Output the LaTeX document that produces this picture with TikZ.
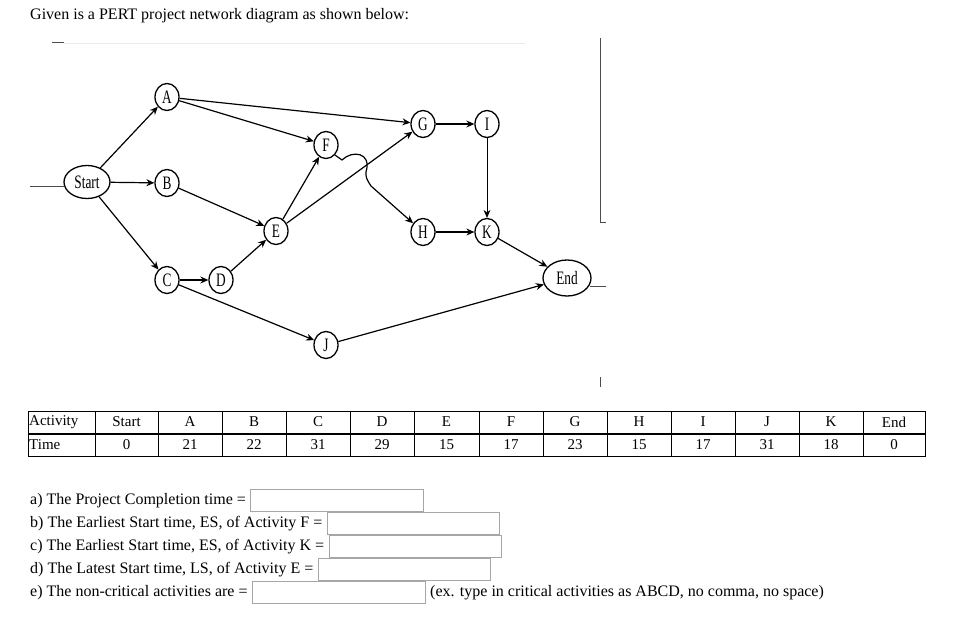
\documentclass[tikz,border=0pt]{standalone}
\usepackage{fontspec}
\setmainfont{Liberation Serif}
\usetikzlibrary{shapes.geometric,arrows.meta}
\tikzset{
 nd/.style={draw,ellipse,line width=1.3pt,inner sep=0pt,minimum width=24pt,minimum height=27pt,font=\fontsize{19}{19}\selectfont},
 bignd/.style={nd,minimum width=46pt,minimum height=33pt},
 ar/.style={line width=1.2pt,-{Stealth[length=8pt,width=7pt]}},
 cell/.style={font=\fontsize{15}{15}\selectfont},
 qt/.style={font=\fontsize{16}{16}\selectfont,anchor=base west,inner sep=0pt},
 ibox/.style={draw=black!35,line width=0.7pt},
 deco/.style={draw=black!70,line width=0.8pt}
}
\newcommand{\cn}[1]{\scalebox{0.7}[1]{#1}}
\begin{document}
\begin{tikzpicture}[x=1pt,y=-1pt]
\useasboundingbox (0,0) rectangle (956,624);
\node[qt] (title) at (30,19) {Given is a PERT project network diagram as shown below:};
% decorations
\draw[deco] (52,42) -- (64,42);
\draw[black!8,line width=0.6pt] (64,43) -- (525,43);
\draw[deco] (600,38) -- (600,222) -- (606,222);
\draw[deco] (600,377) -- (600,387);
% nodes
\node[bignd] (S) at (87,182) {\cn{Start}};
\node[nd] (A) at (167,97) {\cn{A}};
\node[nd] (B) at (167,183) {\cn{B}};
\node[nd] (C) at (167,280) {\cn{C}};
\node[nd] (D) at (221,280) {\cn{D}};
\node[nd] (E) at (276,231) {\cn{E}};
\node[nd] (F) at (326,145) {\cn{F}};
\node[nd] (G) at (423,124) {\cn{G}};
\node[nd] (I) at (487,124) {\cn{I}};
\node[nd] (H) at (423,232) {\cn{H}};
\node[nd] (K) at (487,232) {\cn{K}};
\node[nd] (J) at (326,345) {\cn{J}};
\node[bignd,minimum width=48pt,minimum height=36pt] (End) at (567,278) {\cn{End}};
\coordinate (sl) at (30,186);
\coordinate (slx) at (64,186);
\coordinate (er) at (606,286);
\coordinate (erx) at (590,286);
\draw[deco] (sl) -- (slx);
\draw[deco] (erx) -- (er);
% edges
\draw[ar] (S) -- (A);
\draw[ar] (S) -- (B);
\draw[ar] (S) -- (C);
\draw[ar] (A) -- (G);
\draw[ar] (A) -- (F);
\draw[ar] (B) -- (E);
\draw[ar] (C) -- (D);
\draw[ar] (C) -- (J);
\draw[ar] (D) -- (E);
\draw[ar] (E) -- (F);
\draw[ar] (E) -- (G);
\coordinate (h1) at (342,160);
\coordinate (h2) at (371,186);
\draw[ar] (F.south east) -- (h1) .. controls (352,150) and (372,152) .. (366,172) .. controls (366,178) .. (h2) -- (H);
\draw[ar] (G) -- (I);
\draw[line width=0.8pt,-{Stealth[length=8pt,width=7pt]}] (I) -- (K);
\draw[ar] (H) -- (K);
\draw[ar] (K) -- (End);
\draw[ar] (J) -- (End);
% table
\def\xs{{28,95,158,222,286,350,414,479,543,607,671,735,799,863,925}}
\draw[line width=0.8pt] (28,411) rectangle (925,456);
\draw[line width=2pt] (28,433.5) -- (925,433.5);
\foreach \i in {1,...,13}{\pgfmathsetmacro\xx{\xs[\i]}\draw[line width=0.8pt] (\xx,411) -- (\xx,456);}
\node[cell,anchor=west,inner sep=1pt] (act) at (28,422) {Activity};
\node[cell,anchor=west,inner sep=1pt] (tim) at (28,445) {Time};
\foreach \n/\t [count=\k] in {Start/0,A/21,B/22,C/31,D/29,E/15,F/17,G/23,H/15,I/17,J/31,K/18,End/0}{
 \pgfmathsetmacro\xa{\xs[\k]}\pgfmathsetmacro\xb{\xs[\k+1]}
 \node[cell] (n\k) at ({(\xa+\xb)/2},422) {\n};
 \node[cell] (t\k) at ({(\xa+\xb)/2},445) {\t};
}
% questions
\node[qt] (qa) at (30,504) {a) The Project Completion time =};
\draw[ibox] (250,489) rectangle (423,511);
\node[qt] (qb) at (30,527) {b) The Earliest Start time, ES, of Activity F =};
\draw[ibox] (327,512) rectangle (499,534);
\node[qt] (qc) at (30,550) {c) The Earliest Start time, ES, of Activity K =};
\draw[ibox] (329,535) rectangle (501,557);
\node[qt] (qd) at (30,573) {d) The Latest Start time, LS, of Activity E =};
\draw[ibox] (318,558) rectangle (490,580);
\node[qt] (qe) at (30,596) {e) The non-critical activities are =};
\draw[ibox] (252,581) rectangle (425,603);
\node[qt] (ex) at (430,596) {(ex. type in critical activities as ABCD, no comma, no space)};
\end{tikzpicture}
\end{document}
